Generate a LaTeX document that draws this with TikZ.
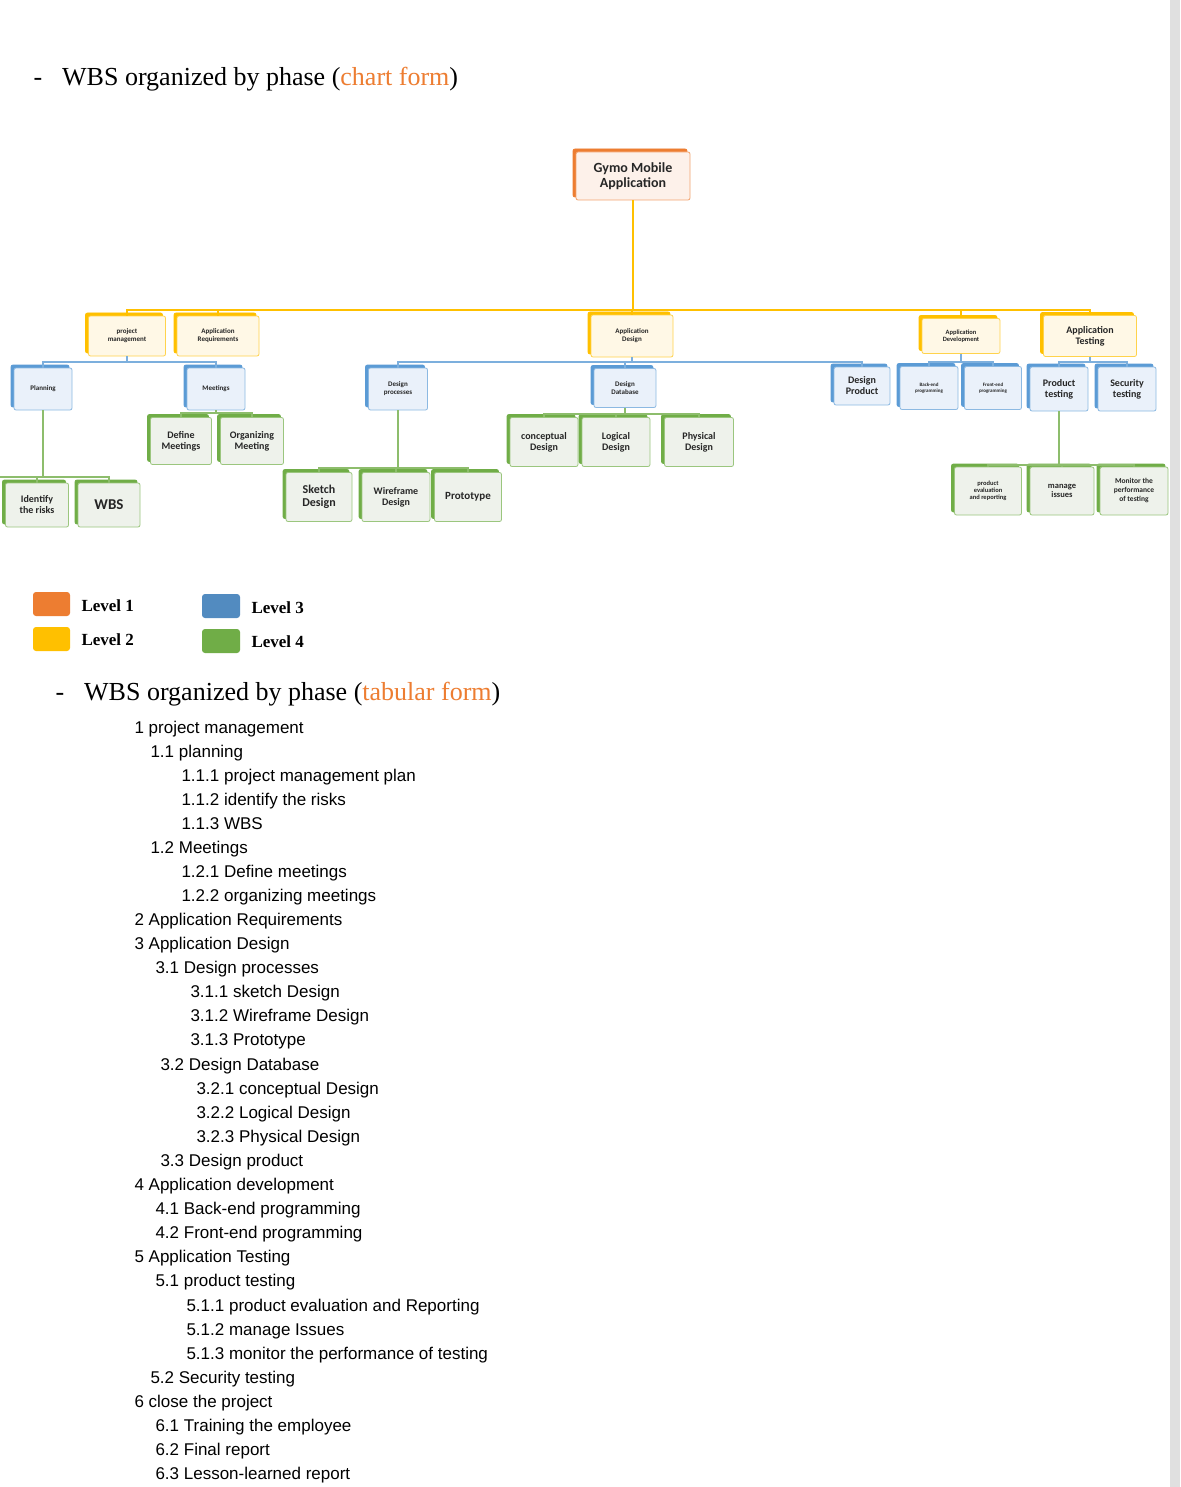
\documentclass[tikz,border=0pt]{standalone}
\usepackage{fontspec}
\setmainfont{Liberation Serif}
\newfontfamily\arialf{Liberation Sans}
\newfontfamily\calf{Carlito}
\usetikzlibrary{shadows}
\definecolor{orn}{HTML}{ED7D31}
\definecolor{yel}{HTML}{FFC000}
\definecolor{blu}{HTML}{5B9BD5}
\definecolor{grn}{HTML}{70AD47}
\definecolor{yfill}{HTML}{FFF8E6}
\definecolor{bfill}{HTML}{EAF1FA}
\definecolor{gfill}{HTML}{EEF2EB}
\definecolor{ofill}{HTML}{FDF1EA}
\begin{document}
\begin{tikzpicture}[x=1pt,y=-1pt,
 box/.style={rounded corners=2pt,align=center,font=\calf\bfseries\fontsize{10}{11}\selectfont,inner sep=1pt,line width=0.8pt,text=black!85},
 b1/.style={box,draw=orn!70,fill=ofill,copy shadow={shadow xshift=-3pt,shadow yshift=3pt,draw=orn,fill=orn}},
 b2/.style={box,draw=yel!70,fill=yfill,copy shadow={shadow xshift=-3pt,shadow yshift=3pt,draw=yel,fill=yel}},
 b3/.style={box,draw=blu!70,fill=bfill,copy shadow={shadow xshift=-3pt,shadow yshift=3pt,draw=blu,fill=blu}},
 b4/.style={box,draw=grn!70,fill=gfill,copy shadow={shadow xshift=-3pt,shadow yshift=3pt,draw=grn,fill=grn}},
 sm/.style={font=\calf\bfseries\fontsize{7}{8}\selectfont},
 tn/.style={font=\calf\bfseries\fontsize{5}{6}\selectfont},
 ly/.style={yel,line width=1.2pt},
 lb/.style={blu!80,line width=1.2pt},
 lg/.style={grn!80,line width=1.2pt},
 li/.style={anchor=base west,font=\arialf\fontsize{17}{17}\selectfont},
 lev/.style={anchor=west,font=\bfseries\fontsize{17}{17}\selectfont}
]
\useasboundingbox (0,0) rectangle (1180,1487);
\fill[white] (0,0) rectangle (1180,1487);
\fill[black!12] (1170,0) rectangle (1180,1487);
% headings
\node[anchor=base west,font=\fontsize{26}{26}\selectfont] (h1) at (30,86) {-\hspace{20pt}WBS organized by phase (\textcolor{orn}{chart form})};
\node[anchor=base west,font=\fontsize{26}{26}\selectfont] (h2) at (52,700) {-\hspace{20pt}WBS organized by phase (\textcolor{orn}{tabular form})};
% nodes
\node[b1,minimum width=114,minimum height=48,font=\calf\bfseries\fontsize{14}{15}\selectfont] (gymo) at (633,176) {Gymo Mobile\\Application};
\node[b2,minimum width=77,minimum height=40,sm] (pm) at (127,336) {project\\management};
\node[b2,minimum width=82,minimum height=40,sm] (ar) at (218,336) {Application\\Requirements};
\node[b2,minimum width=82,minimum height=42,sm] (ad) at (632,336) {Application\\Design};
\node[b2,minimum width=78,minimum height=35,tn,font=\calf\bfseries\fontsize{6.5}{7}\selectfont] (adev) at (961,336) {Application\\Development};
\node[b2,minimum width=93,minimum height=41] (at) at (1090,336) {Application\\Testing};
\node[b3,minimum width=58,minimum height=42,sm] (pl) at (43,389) {Planning};
\node[b3,minimum width=58,minimum height=42,sm] (me) at (216,389) {Meetings};
\node[b3,minimum width=59,minimum height=42,sm] (dp) at (398,389) {Design\\processes};
\node[b3,minimum width=62,minimum height=39,sm] (dd) at (625,388) {Design\\Database};
\node[b3,minimum width=56,minimum height=38] (dpr) at (862,386) {Design\\Product};
\node[b3,minimum width=58,minimum height=43,tn] (be) at (929,388) {Back-end\\programming};
\node[b3,minimum width=57,minimum height=43,tn] (fe) at (993,388) {Front-end\\programming};
\node[b3,minimum width=58,minimum height=44] (ptst) at (1059,389) {Product\\testing};
\node[b3,minimum width=58,minimum height=44] (st) at (1127,389) {Security\\testing};
\node[b4,minimum width=61,minimum height=47] (dm) at (181,441) {Define\\Meetings};
\node[b4,minimum width=63,minimum height=47] (om) at (252,441) {Organizing\\Meeting};
\node[b4,minimum width=68,minimum height=49] (cd) at (544,442) {conceptual\\Design};
\node[b4,minimum width=68,minimum height=49] (ld) at (616,442) {Logical\\Design};
\node[b4,minimum width=69,minimum height=49] (phd) at (699,442) {Physical\\Design};
\node[b4,minimum width=66,minimum height=49,font=\calf\bfseries\fontsize{12}{13}\selectfont] (sk) at (319,497) {Sketch\\Design};
\node[b4,minimum width=68,minimum height=49] (wf) at (396,497) {Wireframe\\Design};
\node[b4,minimum width=67,minimum height=49,font=\calf\bfseries\fontsize{11}{12}\selectfont] (pt) at (468,497) {Prototype};
\node[b4,minimum width=63,minimum height=44] (ir) at (37,505) {Identify\\the risks};
\node[b4,minimum width=62,minimum height=44,font=\calf\bfseries\fontsize{15}{16}\selectfont] (wbs) at (109,505) {WBS};
\node[b4,minimum width=67,minimum height=48,tn,font=\calf\bfseries\fontsize{6.5}{7}\selectfont] (pe) at (988,491) {product\\evaluation\\and reporting};
\node[b4,minimum width=64,minimum height=48,sm,font=\calf\bfseries\fontsize{8.5}{9.5}\selectfont] (mi) at (1062,491) {manage\\issues};
\node[b4,minimum width=68,minimum height=48,font=\calf\bfseries\fontsize{7.5}{9}\selectfont] (mp) at (1134,491) {Monitor the\\performance\\of testing};
% bus coordinates
\coordinate (y1) at (0,310);
\coordinate (y2) at (0,362);
\coordinate (yp) at (0,477);
\coordinate (ym) at (0,413);
\coordinate (yd) at (0,468);
\coordinate (ydd) at (0,414);
\coordinate (yt) at (0,465);
\begin{scope}[on background layer/.style={}]
\foreach \c in {pm,ar,ad,adev,at} \draw[ly] (gymo.south) -- (gymo.south |- y1) -| (\c.north);
\foreach \c in {pl,me} \draw[lb] (pm.south) -- (pm.south |- y2) -| (\c.north);
\foreach \c in {dp,dd,dpr} \draw[lb] (ad.south) -- (ad.south |- y2) -| (\c.north);
\foreach \c in {be,fe} \draw[lb] (adev.south) -- (adev.south |- y2) -| (\c.north);
\foreach \c in {ptst,st} \draw[lb] (at.south) -- (at.south |- y2) -| (\c.north);
\foreach \c in {ir,wbs} \draw[lg] (pl.south) -- (pl.south |- yp) -| (\c.north);
\draw[lg] (pl.south |- yp) -- (0,477);
\foreach \c in {dm,om} \draw[lg] (me.south) -- (me.south |- ym) -| (\c.north);
\foreach \c in {sk,wf,pt} \draw[lg] (dp.south) -- (dp.south |- yd) -| (\c.north);
\foreach \c in {cd,ld,phd} \draw[lg] (dd.south) -- (dd.south |- ydd) -| (\c.north);
\foreach \c in {pe,mi,mp} \draw[lg] (ptst.south) -- (ptst.south |- yt) -| (\c.north);
\end{scope}
% legend
\fill[orn,rounded corners=3pt] (33,592) rectangle (70,616);
\fill[yel,rounded corners=3pt] (33,627) rectangle (70,651);
\fill[blu!90!black,rounded corners=3pt] (202,594) rectangle (240,618);
\fill[grn,rounded corners=3pt] (202,629) rectangle (240,653);
\node[lev] (l1) at (78,606) {Level 1};
\node[lev] (l2) at (78,640) {Level 2};
\node[lev] (l3) at (248,608) {Level 3};
\node[lev] (l4) at (248,642) {Level 4};
% list
\foreach \x/\y/\t in {
131/733/1 project management, 147/757/1.1 planning, 178/781/1.1.1 project management plan,
178/805/1.1.2 identify the risks, 178/829/1.1.3 WBS, 147/853/1.2 Meetings,
178/877/1.2.1 Define meetings, 178/901/1.2.2 organizing meetings, 131/925/2 Application Requirements,
131/949/3 Application Design, 152/973/3.1 Design processes, 187/997/3.1.1 sketch Design,
187/1021/3.1.2 Wireframe Design, 187/1045/3.1.3 Prototype, 157/1070/3.2 Design Database,
193/1094/3.2.1 conceptual Design, 193/1118/3.2.2 Logical Design, 193/1142/3.2.3 Physical Design,
157/1166/3.3 Design product, 131/1190/4 Application development, 152/1214/4.1 Back-end programming,
152/1238/4.2 Front-end programming, 131/1262/5 Application Testing, 152/1286/5.1 product testing,
183/1311/5.1.1 product evaluation and Reporting, 183/1335/5.1.2 manage Issues,
183/1359/5.1.3 monitor the performance of testing, 147/1383/5.2 Security testing,
131/1407/6 close the project, 152/1431/6.1 Training the employee, 152/1455/6.2 Final report,
152/1479/6.3 Lesson-learned report}
 \node[li] at (\x,\y) {\t};
\end{tikzpicture}
\end{document}
